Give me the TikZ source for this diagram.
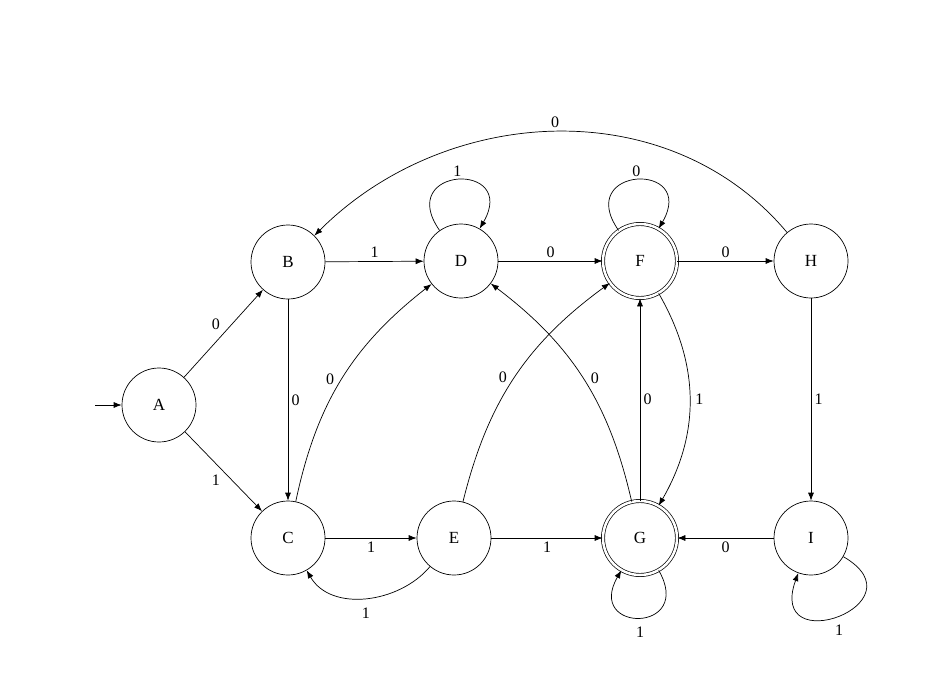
\documentclass[tikz,border=0pt]{standalone}
\usepackage{fontspec}
\setmainfont{Liberation Serif}
\usetikzlibrary{arrows.meta}
\begin{document}
\begin{tikzpicture}[x=1pt,y=1pt,
  st/.style={circle,draw,minimum size=74pt,inner sep=0pt,font=\fontsize{17}{19}\selectfont},
  acc/.style={st,double,double distance=2.5pt},
  lb/.style={font=\fontsize{16}{18}\selectfont},
  >={Latex[length=8pt,width=6pt]}, every path/.style={line width=0.7pt}]
\useasboundingbox (0,0) rectangle (933,-688);
\node[st] (A) at (159,-405) {A};
\node[st] (B) at (288,-262) {B};
\node[st] (C) at (288,-538) {C};
\node[st] (D) at (461,-261) {D};
\node[st] (E) at (454,-538) {E};
\node[acc] (F) at (640,-261) {F};
\node[acc] (G) at (640,-538) {G};
\node[st] (H) at (811,-261) {H};
\node[st] (I) at (811,-538) {I};
\coordinate (s) at (95,-405);
\draw[->] (s) -- (A);
\draw[->] (A) -- (B) node[lb,pos=0.5,above left] {0};
\draw[->] (A) -- (C) node[lb,pos=0.5,below left] {1};
\draw[->] (B) -- (D) node[lb,midway,above] {1};
\draw[->] (B) -- (C) node[lb,midway,right] {0};
\draw[->] (C) to[bend left=20] node[lb,pos=0.5,left=4pt] {0} (D);
\draw[->] (C) -- (E) node[lb,midway,below] {1};
\draw[->] (E) to[out=-130,in=-60] node[lb,below=6pt] {1} (C);
\draw[->] (D) to[out=125,in=60,looseness=5] node[lb,above] {1} (D);
\draw[->] (D) -- (F) node[lb,midway,above] {0};
\draw[->] (E) to[bend left=20] node[lb,pos=0.5,left=4pt] {0} (F);
\draw[->] (E) -- (G) node[lb,midway,below] {1};
\draw[->] (G) to[bend right=20] node[lb,pos=0.5,right=4pt] {0} (D);
\draw[->] (G) -- (F) node[lb,midway,right] {0};
\draw[->] (F) to[bend left=30] node[lb,right=2pt] {1} (G);
\draw[->] (F) to[out=125,in=60,looseness=5] node[lb,above] {0} (F);
\draw[->] (F) -- (H) node[lb,midway,above] {0};
\draw[->] (H) to[out=130,in=45] node[lb,above] {0} (B);
\draw[->] (H) -- (I) node[lb,midway,right] {1};
\draw[->] (I) -- (G) node[lb,midway,below] {0};
\draw[->] (G) to[out=-60,in=-120,looseness=5] node[lb,below=6pt] {1} (G);
\draw[->] (I) to[out=-30,in=-110,looseness=5] node[lb,below=6pt] {1} (I);
\end{tikzpicture}
\end{document}
